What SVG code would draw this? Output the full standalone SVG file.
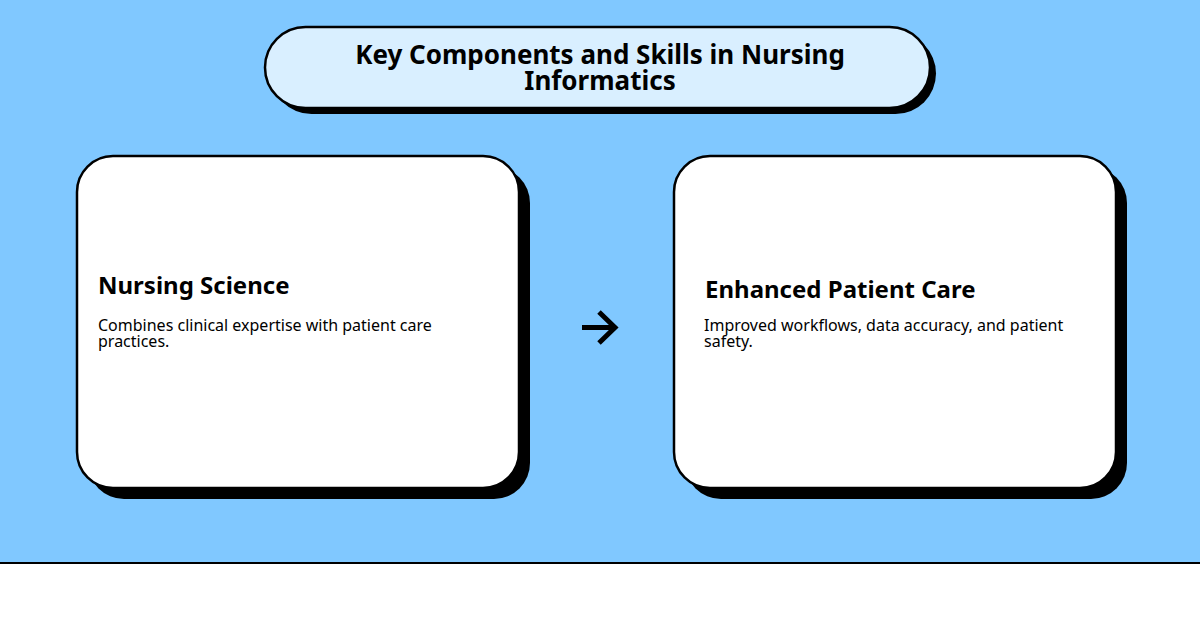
<svg xmlns="http://www.w3.org/2000/svg" width="1200" height="630" viewBox="0 0 1200 630">
<style>
.shadow{fill:#000}
.card{fill:#fff;stroke:#000;stroke-width:2.5}
.pill{fill:#d9efff;stroke:#000;stroke-width:2.5}
.t{font-family:"Noto Sans","Open Sans",sans-serif;fill:#000}
.title{font-size:26px;font-weight:700;text-anchor:middle}
.h{font-size:24px;font-weight:700}
.b{font-size:16px}
</style>
<rect x="0" y="0" width="1200" height="563" fill="#80c8ff"/>
<rect x="0" y="563" width="1200" height="67" fill="#fff"/>
<line x1="0" y1="563" x2="1200" y2="563" stroke="#000" stroke-width="2"/>
<g id="title">
<rect class="shadow" x="271" y="33" width="665" height="81" rx="40.5"/>
<rect class="pill" x="265" y="27" width="665" height="81" rx="40.5"/>
<text class="t title" x="600" y="64">Key Components and Skills in Nursing</text>
<text class="t title" x="600" y="90">Informatics</text>
</g>
<g id="node-nursing-science">
<rect class="shadow" x="88" y="167" width="442" height="332" rx="36"/>
<rect class="card" x="77" y="156" width="442" height="332" rx="36"/>
<text class="t h" x="98" y="294">Nursing Science</text>
<text class="t b" x="98" y="331">Combines clinical expertise with patient care</text>
<text class="t b" x="98" y="347">practices.</text>
</g>
<g id="node-enhanced-patient-care">
<rect class="shadow" x="685" y="167" width="442" height="332" rx="36"/>
<rect class="card" x="674" y="156" width="442" height="332" rx="36"/>
<text class="t h" x="705" y="298">Enhanced Patient Care</text>
<text class="t b" x="704" y="331">Improved workflows, data accuracy, and patient</text>
<text class="t b" x="704" y="347">safety.</text>
</g>
<g id="connectors">
<path d="M582 327.5 H614 M599 312 L615 327.5 L599 343" fill="none" stroke="#000" stroke-width="5"/>
</g>
</svg>
